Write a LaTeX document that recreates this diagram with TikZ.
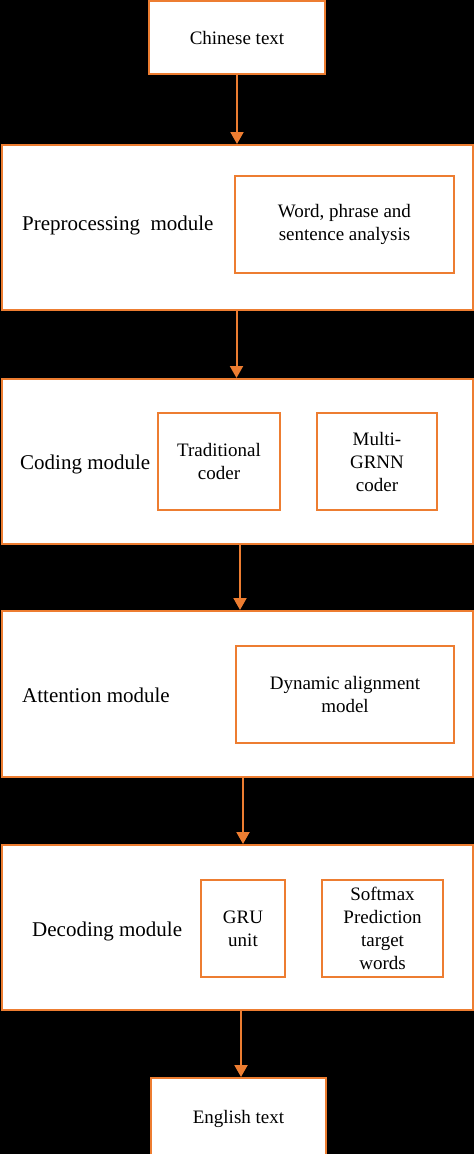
\documentclass[tikz,border=0pt]{standalone}
\usepackage{fontspec}
\setmainfont{Liberation Serif}
\usetikzlibrary{arrows.meta}
\definecolor{org}{HTML}{ED7D31}
\begin{document}
\begin{tikzpicture}[x=1pt,y=-1pt,
  box/.style={draw=org, line width=2pt, fill=white, inner sep=0pt, align=center,
    font=\fontsize{19}{23}\selectfont},
  lab/.style={font=\fontsize{21}{25}\selectfont, anchor=base west, inner sep=0pt},
  arr/.style={draw=org, line width=2pt, -{Triangle[width=13pt,length=12pt]}}]
\useasboundingbox (0,0) rectangle (474,1154);
\clip (0,0) rectangle (474,1154);
\fill[black] (0,0) rectangle (474,1154);

% top and bottom text boxes
\node[box, minimum width=176pt, minimum height=73pt] (cin) at (237,37.5) {Chinese text};
\node[box, minimum width=175pt, minimum height=82pt] (eng) at (238.5,1119) {English text};

% module boxes
\node[box, minimum width=471pt, minimum height=165pt] (pre) at (237,227.5) {};
\node[box, minimum width=471pt, minimum height=165pt] (cod) at (237,461.5) {};
\node[box, minimum width=471pt, minimum height=166pt] (att) at (237,694) {};
\node[box, minimum width=471pt, minimum height=165pt] (dec) at (237,927.5) {};

% module labels
\node[lab] (prel) at (22,230) {Preprocessing\ \ module};
\node[lab] (codl) at (20,469) {Coding module};
\node[lab] (attl) at (22,702) {Attention module};
\node[lab] (decl) at (32,936) {Decoding module};

% inner boxes
\node[box, minimum width=219pt, minimum height=97pt] (word) at (344.5,224.5) {Word, phrase and\\sentence analysis};
\node[box, minimum width=122pt, minimum height=97pt] (trad) at (219,461.5) {Traditional\\coder};
\node[box, minimum width=120pt, minimum height=97pt] (mgr) at (377,461.5) {Multi-\\GRNN\\coder};
\node[box, minimum width=218pt, minimum height=97pt] (dyn) at (345,694.5) {Dynamic alignment\\model};
\node[box, minimum width=84pt, minimum height=97pt] (gru) at (243,928.5) {GRU\\unit};
\node[box, minimum width=121pt, minimum height=97pt] (soft) at (382.5,928.5) {Softmax\\Prediction\\target\\words};

% arrows
\draw[arr] (cin.south) -- (cin.south |- pre.north);
\draw[arr] ([xshift=-0.5pt]pre.south) -- ([xshift=-0.5pt]pre.south |- cod.north);
\draw[arr] ([xshift=3pt]cod.south) -- ([xshift=3pt]cod.south |- att.north);
\draw[arr] ([xshift=6pt]att.south) -- ([xshift=6pt]att.south |- dec.north);
\draw[arr] ([xshift=4pt]dec.south) -- ([xshift=4pt]dec.south |- eng.north);
\end{tikzpicture}
\end{document}
